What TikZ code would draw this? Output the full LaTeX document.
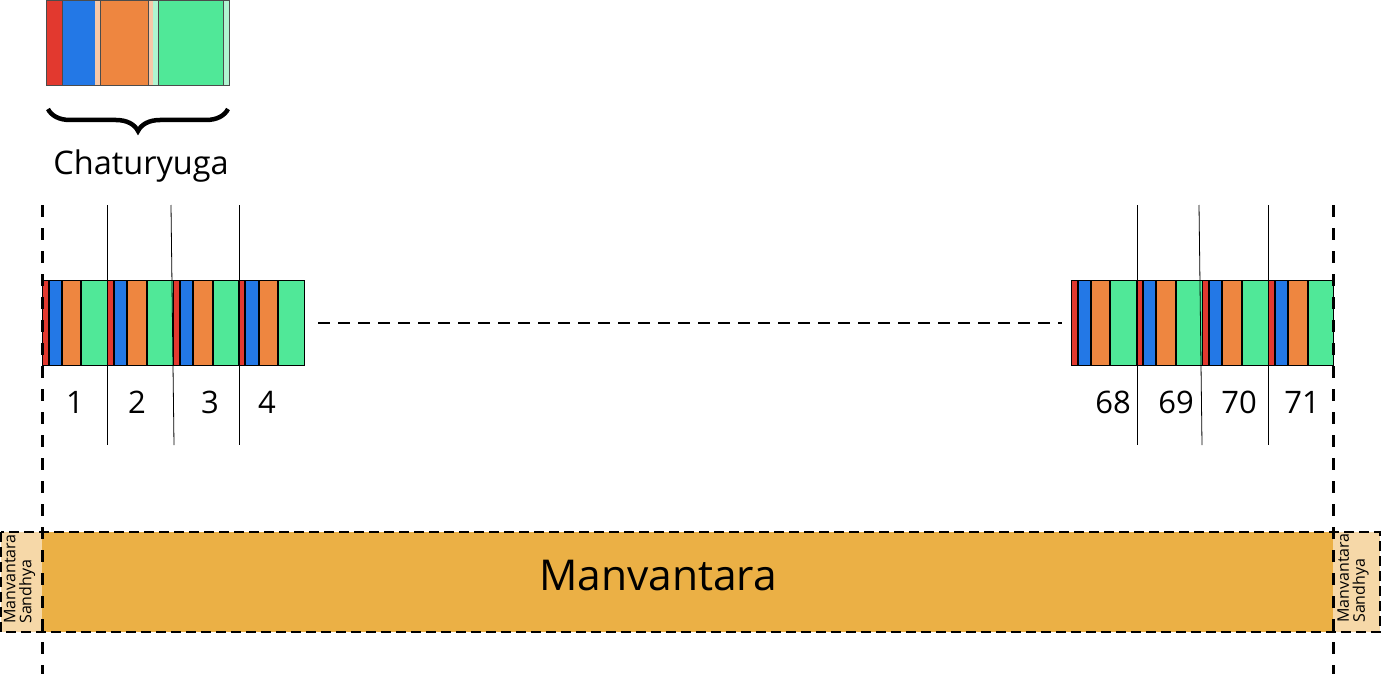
\documentclass[tikz,border=0pt]{standalone}
\usepackage{fontspec}
\setmainfont{Open Sans}
\usetikzlibrary{decorations.pathreplacing}
\definecolor{kalired}{RGB}{226,57,47}
\definecolor{dvablue}{RGB}{35,120,230}
\definecolor{tretaorange}{RGB}{238,134,64}
\definecolor{satyagreen}{RGB}{80,232,152}
\definecolor{manvorange}{RGB}{235,176,69}
\definecolor{sandhyaorange}{RGB}{246,216,168}

\tikzset{
  vdash/.style={line width=3pt, dash pattern=on 12pt off 11pt},
  hdash/.style={line width=1.5pt, dash pattern=on 12pt off 8pt},
  bordash/.style={line width=2pt, dash pattern=on 10pt off 5pt},
  num/.style={anchor=base, inner sep=0pt, font=\fontsize{31}{36}\selectfont}
}

\begin{document}
\begin{tikzpicture}[x=1pt,y=-1pt]
    \useasboundingbox (0,0) rectangle (1381,674);

    % one chaturyuga, large
    \filldraw[fill=kalired, draw=black!70] (46,0) rectangle (62,85);
    \filldraw[fill=dvablue, draw=black!70] (62,0) rectangle (95,85);
    \fill[tretaorange!45] (95,0) rectangle (153,85);
    \filldraw[fill=tretaorange, draw=black!70] (100,0) rectangle (148,85);
    \fill[satyagreen!45] (153,0) rectangle (229,85);
    \filldraw[fill=satyagreen, draw=black!70] (158,0) rectangle (223,85);
    \draw[black!70] (46,0) rectangle (229,85);
    \draw[decorate, decoration={brace, amplitude=22pt}, line width=4.5pt] (228,109) -- (48,109);
    \node[anchor=base, inner sep=0pt, font=\fontsize{32.5}{38}\selectfont] (chatur) at (141,175) {Chaturyuga};

    % the two strips of chaturyugas
    \foreach \s in {42,107.6,173.2,238.8,1071,1136.7,1202.4,1268.1} {
        \fill[kalired] (\s,280) rectangle (\s+6.6,365);
        \fill[dvablue] (\s+6.6,280) rectangle (\s+19.7,365);
        \fill[tretaorange] (\s+19.7,280) rectangle (\s+39.4,365);
        \fill[satyagreen] (\s+39.4,280) rectangle (\s+65.6,365);
        \draw[line width=2pt] (\s+6.6,280) -- (\s+6.6,365);
        \draw[line width=2pt] (\s+19.7,280) -- (\s+19.7,365);
        \draw[line width=2pt] (\s+39.4,280) -- (\s+39.4,365);
        \draw[line width=0.8pt] (\s,280) -- (\s,365);
    }
    \draw[line width=1pt] (42,280) rectangle (304.4,365);
    \draw[line width=1pt] (1071,280) rectangle (1333.8,365);

    \coordinate (lend) at (318,323);
    \coordinate (rstart) at (1062,323);
    \draw[hdash] (lend) -- (rstart);

    % dividers
    \draw[line width=0.8pt] (107,205) -- (107,445);
    \draw[line width=0.8pt] (171,205) -- (174,445);
    \draw[line width=0.8pt] (239,205) -- (239,445);
    \draw[line width=0.8pt] (1137,205) -- (1137,445);
    \draw[line width=0.8pt] (1199,205) -- (1202,445);
    \draw[line width=0.8pt] (1268,205) -- (1268,445);

    \foreach \x/\n in {75/1,137/2,210/3,267/4,1113/68,1176/69,1239/70,1302/71}
        \node[num] (c\n) at (\x,413) {\n};

    % manvantara with its sandhyas
    \fill[manvorange] (42,532) rectangle (1333,632);
    \fill[sandhyaorange] (1,532) rectangle (42,632);
    \fill[sandhyaorange] (1333,532) rectangle (1380,632);
    \draw[bordash] (1,532) rectangle (1380,632);
    \node[anchor=base, inner sep=0pt, font=\fontsize{42.5}{48}\selectfont] (manv) at (658,590) {Manvantara};
    \node[rotate=90, align=left, inner sep=0pt, font=\fontsize{16}{16}\selectfont] (lsandhya) at (19.5,579) {Manvantara\\Sandhya};
    \node[rotate=90, align=left, inner sep=0pt, font=\fontsize{16}{16}\selectfont] (rsandhya) at (1353,578) {Manvantara\\Sandhya};

    \draw[vdash] (42,205) -- (42,674);
    \draw[vdash] (1333,205) -- (1333,674);
\end{tikzpicture}
\end{document}
